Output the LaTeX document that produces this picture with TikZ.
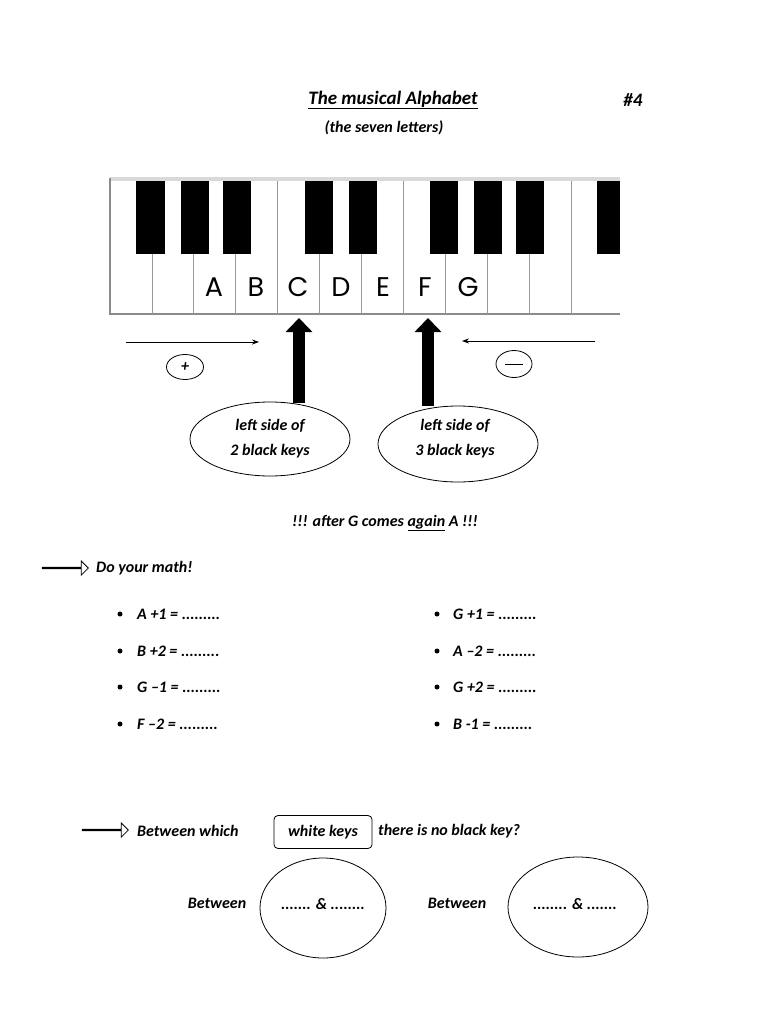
\documentclass[tikz,border=0pt]{standalone}
\usepackage{fontspec}
\setmainfont{Carlito}
\newfontfamily\keyfont{Poppins}
\usetikzlibrary{arrows.meta,shapes.geometric,shapes.arrows}
\tikzset{
  txt/.style={font=\fontsize{16}{19}\selectfont\bfseries\itshape, inner sep=0pt},
  oval/.style={draw, ellipse, thick},
  thinarrow/.style={-{Stealth[length=7pt,width=5pt]}, line width=0.8pt},
  fatarrow/.style={-{Triangle[length=14pt,width=26pt]}, line width=12pt},
  openarrow/.style={draw, single arrow, single arrow head extend=4pt, minimum height=46pt, minimum width=14pt, inner sep=0pt, line width=0.8pt},
  blackkey/.style={fill=black},
  keyletter/.style={font=\keyfont\fontsize{27}{30}\selectfont, inner sep=0pt}
}
\begin{document}
\begin{tikzpicture}[x=1pt,y=-1pt]
\useasboundingbox (0,0) rectangle (768,1024);
% title
\node[txt, font=\fontsize{19}{22}\selectfont\bfseries\itshape] (title) at (393,100) {\underline{The musical Alphabet}};
\node[txt, font=\fontsize{19}{22}\selectfont\bfseries\itshape] (num) at (633,100) {\#4};
\node[txt] (sub) at (384,128) {(the seven letters)};
% keyboard
\fill[black!15] (110,177) rectangle (620,181);
\draw[black!45, line width=1.5pt] (110,178) -- (110,314) -- (620,314);
\foreach \x in {152,193,235,277,319,361,403,445,487,529,571}
  \draw[black!40, line width=1pt] (\x,181) -- (\x,314);
\foreach \a/\b in {136/165,181/209,223/251,305/333,349/377,430/458,474/502,516/544,597/620}
  \fill[blackkey] (\a,181) rectangle (\b,254);
\foreach \l/\x in {A/214,B/256,C/298,D/341,E/383,F/425,G/468}
  \node[keyletter] (k\l) at (\x,287) {\l};
% arrows
\coordinate (t1) at (299,318);
\coordinate (t2) at (428,318);
\node[oval, minimum width=160pt, minimum height=74pt] (e1) at (270,439) {};
\node[txt, align=center, font=\fontsize{16}{25}\selectfont\bfseries\itshape] at (270,439) {left side of\\2 black keys};
\node[oval, minimum width=160pt, minimum height=76pt] (e2) at (458,444) {};
\node[txt, align=center, font=\fontsize{16}{25}\selectfont\bfseries\itshape] at (455,439) {left side of\\3 black keys};
\draw[fatarrow] (299,403) -- (t1);
\draw[fatarrow] (428,406) -- (t2);
\coordinate (l1) at (126,342); \coordinate (l2) at (259,342);
\coordinate (r1) at (595,341); \coordinate (r2) at (462,341);
\draw[thinarrow] (l1) -- (l2);
\draw[thinarrow] (r1) -- (r2);
\node[draw, ellipse, line width=0.8pt, minimum width=37pt, minimum height=25pt, txt] (plus) at (185,367) {+};
\node[draw, ellipse, line width=0.8pt, minimum width=36pt, minimum height=27pt] (minus) at (514,364) {};
\draw[line width=0.8pt] (505,364) -- (523,364);
% again
\node[txt] (again) at (385,523) {!!! after G comes \underline{again} A !!!};
% math
\node[openarrow] (oa1) at (65,568) {};
\node[txt, anchor=west] (math) at (96,568) {Do your math!};
\foreach \y/\a/\b in {614/{A +1 = .........}/{G +1 = .........},651/{B +2 = .........}/{A --2 = .........},687/{G --1 = .........}/{G +2 = .........},724/{F --2 = .........}/{B -1 = .........}}{
  \fill (120,\y) circle (2.5pt);
  \node[txt, anchor=west] at (137,\y) {\a};
  \fill (437,\y) circle (2.5pt);
  \node[txt, anchor=west] at (453,\y) {\b};
}
% between
\node[openarrow] (oa2) at (105,830) {};
\node[txt, anchor=west] (q1) at (137,831) {Between which};
\node[draw, rounded corners=4pt, line width=0.8pt, minimum width=98pt, minimum height=33pt, txt] (wk) at (323,832) {white keys};
\node[txt, anchor=west] (q2) at (378,831) {there is no black key?};
\node[txt] (b1) at (217,903) {Between};
\node[oval, line width=0.8pt, minimum width=126pt, minimum height=100pt] (c1) at (323,908) {};
\node[txt] at (323,904) {....... \& ........};
\node[txt] (b2) at (457,903) {Between};
\node[oval, line width=0.8pt, minimum width=140pt, minimum height=100pt] (c2) at (578,907) {};
\node[txt] at (575,904) {........ \& .......};
\end{tikzpicture}
\end{document}
